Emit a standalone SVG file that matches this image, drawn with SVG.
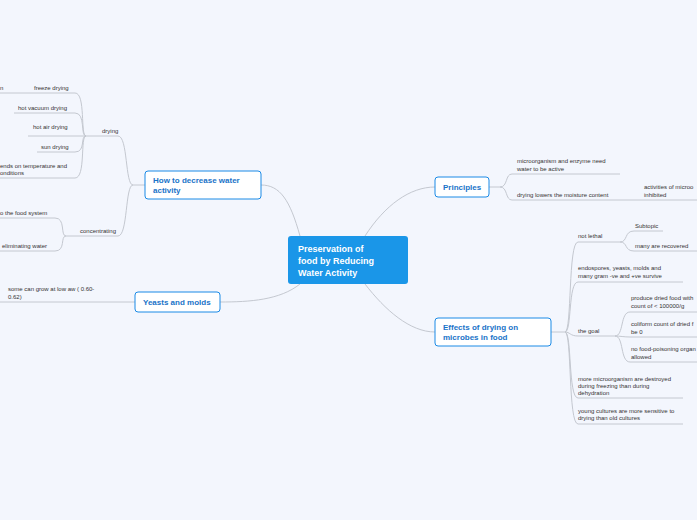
<svg xmlns="http://www.w3.org/2000/svg" width="697" height="520" viewBox="0 0 697 520">
<style>
.t{font-family:"Liberation Sans",Arial,sans-serif;font-size:6px;fill:#333}
.m{font-family:"Liberation Sans",Arial,sans-serif;font-size:8px;font-weight:bold;fill:#1a73c8}
.c{fill:none;stroke:#c4c8d0;stroke-width:1}
.b{fill:#fff;stroke:#1a8ae6;stroke-width:1}
</style>
<rect width="697" height="520" fill="#f3f6fd"/>
<g id="connectors">
<path class="c" d="M300 236 C290 200 280 185 261 185"/>
<path class="c" d="M300 284 C280 300 250 302 220 302"/>
<path class="c" d="M365 236 C385 205 410 187 435 187"/>
<path class="c" d="M365 284 C385 310 410 332 435 332"/>
<path class="c" d="M145 185 H133 C125 185 128 136 118 136 H86 M133 185 C125 185 128 236 118 236 H66"/>
<path class="c" d="M86 136 C80 136 86 93 75 93 H0 M86 136 C80 136 86 113 75 113 H14 M86 136 H28 M86 136 C80 136 86 152 75 152 H37 M86 136 C80 136 86 178 75 178 H0"/>
<path class="c" d="M66 236 C60 236 66 218 55 218 H0 M66 236 C60 236 66 251 55 251 H0"/>
<path class="c" d="M135 302 H0"/>
<path class="c" d="M489 187 H500 C508 187 505 174 512 174 H620 M500 187 C508 187 505 200 512 200 H697"/>
<path class="c" d="M551 332 H565 M565 332 C572 332 568 242 578 242 H620 M565 332 C572 332 568 282 578 282 H683 M565 332 C570 332 570 336 578 336 H615 M565 332 C572 332 568 398 578 398 H683 M565 332 C572 332 568 424 578 424 H683"/>
<path class="c" d="M620 242 C628 242 624 231 634 231 H663 M620 242 C628 242 624 251 634 251 H697"/>
<path class="c" d="M615 336 C624 336 620 312 630 312 H697 M615 336 C620 336 624 337 630 337 H697 M615 336 C624 336 620 362 630 362 H697"/>
</g>
<g id="central"><rect x="288" y="236" width="120" height="48" rx="3" fill="#1a96e8"/>
<text font-family="Liberation Sans,Arial,sans-serif" font-size="9" font-weight="bold" fill="#fff"><tspan x="298" y="252">Preservation of</tspan><tspan x="298" y="264">food by Reducing</tspan><tspan x="298" y="276">Water Activity</tspan></text></g>
<g id="how"><rect class="b" x="145" y="171" width="116" height="28" rx="3"/><text class="m"><tspan x="153" y="183">How to decrease water</tspan><tspan x="153" y="193">activity</tspan></text></g>
<g id="yeasts"><rect class="b" x="135" y="292" width="85" height="20" rx="3"/><text class="m" x="143" y="305">Yeasts and molds</text></g>
<g id="principles"><rect class="b" x="435" y="177" width="54" height="20" rx="3"/><text class="m" x="443" y="190">Principles</text></g>
<g id="effects"><rect class="b" x="435" y="318" width="116" height="28" rx="3"/><text class="m"><tspan x="443" y="330">Effects of drying on</tspan><tspan x="443" y="340">microbes in food</tspan></text></g>
<g id="subs">
<text class="t" x="102" y="133">drying</text>
<text class="t" x="34" y="90">freeze drying</text>
<text class="t" x="0" y="90">n</text>
<text class="t" x="18" y="110">hot vacuum drying</text>
<text class="t" x="33" y="129">hot air drying</text>
<text class="t" x="41" y="149">sun drying</text>
<text class="t"><tspan x="0" y="168">ends on temperature and</tspan><tspan x="0" y="175">onditions</tspan></text>
<text class="t" x="80" y="233">concentrating</text>
<text class="t" x="0" y="215">o the food system</text>
<text class="t" x="2" y="248">eliminating water</text>
<text class="t"><tspan x="8" y="291">some can grow at low aw ( 0.60-</tspan><tspan x="8" y="299">0.62)</tspan></text>
<text class="t"><tspan x="517" y="163">microorganism and enzyme need</tspan><tspan x="517" y="171">water to be active</tspan></text>
<text class="t" x="517" y="197">drying lowers the moisture content</text>
<text class="t"><tspan x="644" y="189">activities of microo</tspan><tspan x="644" y="197">inhibited</tspan></text>
<text class="t" x="578" y="238">not lethal</text>
<text class="t" x="635" y="228">Subtopic</text>
<text class="t" x="635" y="248">many are recovered</text>
<text class="t"><tspan x="578" y="270">endospores, yeasts, molds and</tspan><tspan x="578" y="278">many gram -ve and +ve survive</tspan></text>
<text class="t" x="578" y="333">the goal</text>
<text class="t"><tspan x="631" y="300">produce dried food with</tspan><tspan x="631" y="308">count of &lt; 100000/g</tspan></text>
<text class="t"><tspan x="631" y="326">coliform count of dried f</tspan><tspan x="631" y="334">be 0</tspan></text>
<text class="t"><tspan x="631" y="351">no food-poisoning organ</tspan><tspan x="631" y="359">allowed</tspan></text>
<text class="t"><tspan x="578" y="381">more microorganism are destroyed</tspan><tspan x="578" y="388">during freezing than during</tspan><tspan x="578" y="395">dehydration</tspan></text>
<text class="t"><tspan x="578" y="413">young cultures are more sensitive to</tspan><tspan x="578" y="420">drying than old cultures</tspan></text>
</g>
</svg>
